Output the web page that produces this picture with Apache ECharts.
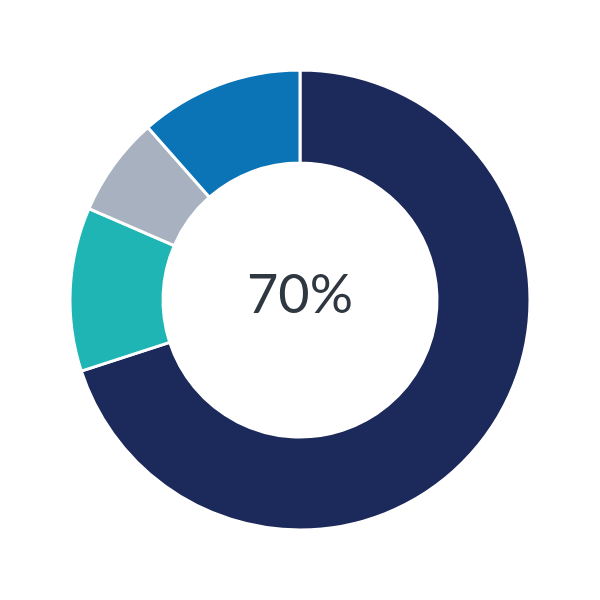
<!DOCTYPE html>
<html>
<head>
<meta charset="utf-8">
<script src="https://cdn.jsdelivr.net/npm/echarts@6/dist/echarts.min.js"></script>
<style>
html,body{margin:0;padding:0;background:#fff;}
#chart{width:600px;height:600px;}
</style>
</head>
<body>
<div id="chart"></div>
<script>
const categories = ['A', 'B', 'C', 'D'];
const values = [70, 11.5, 7, 11.5];
const colors = ['#1c2a5b', '#1fb5b5', '#a7b1bf', '#0a74b6'];
const centerLabel = '70%';

const chart = echarts.init(document.getElementById('chart'));
chart.setOption({
  animation: false,
  series: [{
    type: 'pie',
    center: [300, 300],
    radius: [137, 230],
    startAngle: 90,
    clockwise: true,
    silent: true,
    label: { show: false },
    labelLine: { show: false },
    itemStyle: { borderColor: '#ffffff', borderWidth: 3 },
    data: categories.map((c, i) => ({ name: c, value: values[i], itemStyle: { color: colors[i] } }))
  }],
  graphic: [{
    type: 'text',
    left: 'center',
    top: 269,
    style: {
      text: centerLabel,
      font: '400 54px Lato',
      fill: '#2f3741'
    }
  }]
});
</script>
</body>
</html>
